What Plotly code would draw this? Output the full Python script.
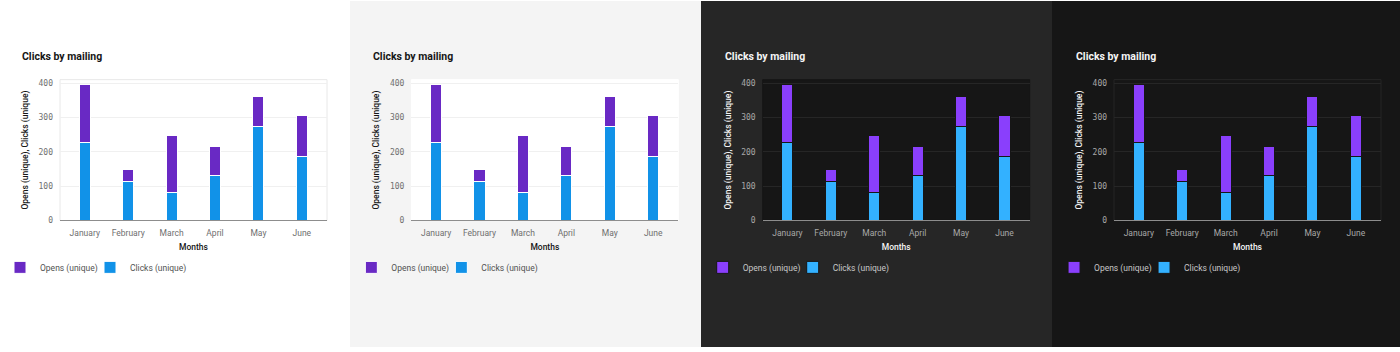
import plotly.graph_objects as go

# ---------------- data ----------------
months = ["January", "February", "March", "April", "May", "June"]
clicks_unique = [226, 114, 82, 132, 274, 187]
opens_unique = [169, 33, 164, 82, 87, 120]
y_tick_values = [0, 100, 200, 300, 400]
y_tick_labels = ["0", "100", "200", "300", "400"]
series_opens = "Opens (unique)"
series_clicks = "Clicks (unique)"
chart_title = "Clicks by mailing"
x_axis_title = "Months"
y_axis_title = "Opens (unique), Clicks (unique)"

# ---------------- themes (white, g10, g90, g100) ----------------
themes = [
    dict(bg="#ffffff", plot="#ffffff", grid="#f0f0f0", border="#e8e8e8", axis="#8d8d8d",
         title="#161616", tick="#6f6f6f", axtitle="#161616", legend="#525252",
         opens="#6929c4", clicks="#1192e8", stroke="#ffffff"),
    dict(bg="#f4f4f4", plot="#ffffff", grid="#f0f0f0", border="#ffffff", axis="#8d8d8d",
         title="#161616", tick="#6f6f6f", axtitle="#161616", legend="#525252",
         opens="#6929c4", clicks="#1192e8", stroke="#ffffff"),
    dict(bg="#262626", plot="#161616", grid="#262626", border="#161616", axis="#8d8d8d",
         title="#f4f4f4", tick="#a8a8a8", axtitle="#f4f4f4", legend="#c6c6c6",
         opens="#8a3ffc", clicks="#33b1ff", stroke="#161616"),
    dict(bg="#161616", plot="#161616", grid="#262626", border="#262626", axis="#8d8d8d",
         title="#f4f4f4", tick="#a8a8a8", axtitle="#f4f4f4", legend="#c6c6c6",
         opens="#8a3ffc", clicks="#33b1ff", stroke="#161616"),
]

W, H = 1400, 352
PANEL_W = 351.35
BG_EDGES = [0, 350, 701, 1052, 1400]
SANS = "Roboto"
MONO = "DejaVu Sans Mono"

fig = go.Figure()
layout = dict(
    width=W, height=H, margin=dict(l=0, r=0, t=0, b=0),
    paper_bgcolor="#ffffff", plot_bgcolor="rgba(0,0,0,0)",
    barmode="stack", bargap=0.75, showlegend=True, hovermode=False,
    shapes=[], annotations=[],
)

def py(p):
    return 1 - p / H

def legend_name(i):
    return "legend" if i == 1 else "legend%d" % i

for k, th in enumerate(themes):
    o = PANEL_W * k
    sfx = "" if k == 0 else str(k + 1)
    xa, ya = "x" + sfx, "y" + sfx
    leg_opens = legend_name(2 * k + 1)
    leg_clicks = legend_name(2 * k + 2)

    # panel background
    layout["shapes"].append(dict(type="rect", xref="paper", yref="paper", layer="below",
                                 x0=BG_EDGES[k] / W, x1=BG_EDGES[k + 1] / W, y0=0, y1=1,
                                 fillcolor=th["bg"], line=dict(width=0)))
    # plot area background
    x0p, x1p = (60 + o) / W, (327 + o) / W
    y0p, y1p = py(223.3), py(80)
    layout["shapes"].append(dict(type="rect", xref="paper", yref="paper", layer="below",
                                 x0=x0p, x1=x1p, y0=y0p, y1=y1p,
                                 fillcolor=th["plot"], line=dict(color=th["border"], width=1)))

    fig.add_trace(go.Bar(
        x=months, y=clicks_unique, name=series_clicks, xaxis=xa, yaxis=ya, legend=leg_clicks,
        width=0.255, marker=dict(color=th["clicks"], line=dict(color=th["stroke"], width=1)),
        hoverinfo="skip"))
    fig.add_trace(go.Bar(
        x=months, y=opens_unique, name=series_opens, xaxis=xa, yaxis=ya, legend=leg_opens,
        width=0.255, marker=dict(color=th["opens"], line=dict(color=th["stroke"], width=1)),
        hoverinfo="skip"))

    layout["xaxis" + sfx] = dict(
        domain=[x0p, x1p], anchor=ya, range=[-0.57, 5.58], fixedrange=True,
        showgrid=False, zeroline=False, showline=True, linecolor=th["axis"], linewidth=1,
        ticks="", ticklabelstandoff=4,
        tickfont=dict(family=SANS, size=8.5, color=th["tick"]),
        title=dict(text=x_axis_title, standoff=7,
                   font=dict(family=SANS, size=8.5, color=th["axtitle"], weight=500)),
    )
    layout["yaxis" + sfx] = dict(
        domain=[y0p, y1p], anchor=xa, range=[0, 410], fixedrange=True,
        tickvals=y_tick_values, ticktext=y_tick_labels,
        showgrid=True, gridcolor=th["grid"], gridwidth=1, zeroline=False, showline=False,
        ticks="", ticklabelstandoff=6,
        tickfont=dict(family=MONO, size=8, color=th["tick"]),
        title=dict(text=y_axis_title, standoff=8,
                   font=dict(family=SANS, size=8.5, color=th["axtitle"], weight=500)),
    )
    for leg, lx in ((leg_opens, 0), (leg_clicks, 90)):
        layout[leg] = dict(
            orientation="h", x=(lx + o) / W, xanchor="left", y=py(271), yanchor="middle",
            bgcolor="rgba(0,0,0,0)", itemclick=False, itemdoubleclick=False,
            font=dict(family=SANS, size=8.5, color=th["legend"]),
        )
    layout["annotations"].append(dict(
        text=chart_title, xref="paper", yref="paper", x=(20 + o) / W, y=py(56),
        xanchor="left", yanchor="middle", showarrow=False,
        font=dict(family=SANS, size=10.5, color=th["title"], weight=700)))

fig.update_layout(**layout)
fig.write_html("out.html", config={"displayModeBar": False, "staticPlot": True})
